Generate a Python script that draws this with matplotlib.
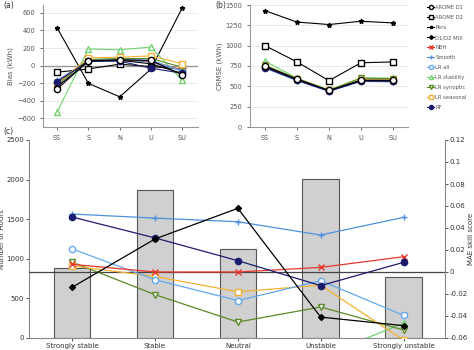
import matplotlib.pyplot as plt
import numpy as np

plt.rcParams['font.family'] = ['DejaVu Sans']
plt.rcParams['font.size'] = 5

# categories
cats_short = ['SS', 'S', 'N', 'U', 'SU']
cats_long = ['Strongly stable', 'Stable', 'Neutral', 'Unstable', 'Strongly unstable']

# (a) bias in kWh
bias = {
    'AROME D1':     [-268, 54, 65, 58, -107],
    'AROME D2':     [-76, -38, 16, -12, -40],
    'Pers':         [430, -203, -356, -40, 660],
    'D1/D2 MIX':    [-240, 45, 60, 20, -90],
    'NBH':          [-190, 60, 70, 50, -50],
    'Smooth':       [-170, 55, 65, 40, -60],
    'LR all':       [-200, 60, 75, 60, -60],
    'LR stability': [-529, 189, 180, 211, -170],
    'LR synoptic':  [-220, 70, 80, 80, -20],
    'LR seasonal':  [-210, 90, 95, 110, 20],
    'RF':           [-184, 50, 50, -30, -88],
}

# (b) CRMSE in kWh
crmse = {
    'AROME D1':     [750, 590, 450, 575, 575],
    'AROME D2':     [1000, 800, 570, 790, 800],
    'Pers':         [1430, 1290, 1260, 1300, 1280],
    'D1/D2 MIX':    [740, 580, 445, 570, 570],
    'NBH':          [745, 585, 448, 575, 570],
    'Smooth':       [725, 570, 440, 560, 555],
    'LR all':       [735, 575, 442, 565, 560],
    'LR stability': [810, 600, 455, 605, 600],
    'LR synoptic':  [760, 595, 452, 600, 595],
    'LR seasonal':  [750, 590, 450, 580, 580],
    'RF':           [730, 575, 440, 565, 560],
}

# (c) number of hours and MAE skill score
hours = [884, 1869, 1124, 2008, 770]
skill = {
    'D1/D2 MIX':    [-0.0139, 0.030, 0.0579, -0.041, -0.0488],
    'NBH':          [0.007, 0.0, 0.0, 0.0042, 0.0139],
    'Smooth':       [0.0527, 0.049, 0.0457, 0.0336, 0.0497],
    'LR all':       [0.021, -0.007, -0.026, -0.0079, -0.0394],
    'LR stability': [-0.09, -0.10, -0.12, -0.077, -0.0465],
    'LR synoptic':  [0.009, -0.0206, -0.0455, -0.0318, -0.0527],
    'LR seasonal':  [0.0055, -0.004, -0.018, -0.012, -0.062],
    'RF':           [0.050, 0.031, 0.0103, -0.0124, 0.0088],
}

styles = {
    'AROME D1':     dict(color='black', marker='o', mfc='white', mec='black', ms=4.5, mew=1.0),
    'AROME D2':     dict(color='black', marker='s', mfc='white', mec='black', ms=4, mew=1.0),
    'Pers':         dict(color='black', marker='*', mfc='black', mec='black', ms=3.5),
    'D1/D2 MIX':    dict(color='black', marker='D', mfc='black', mec='black', ms=3),
    'NBH':          dict(color='#e8372a', marker='x', mfc='#e8372a', mec='#e8372a', ms=4),
    'Smooth':       dict(color='#4f8fe0', marker='+', mfc='#4f8fe0', mec='#4f8fe0', ms=5),
    'LR all':       dict(color='#62a8ee', marker='o', mfc='white', mec='#62a8ee', ms=4.5),
    'LR stability': dict(color='#6fd36f', marker='^', mfc='white', mec='#6fd36f', ms=4.5),
    'LR synoptic':  dict(color='#5a8a28', marker='v', mfc='white', mec='#5a8a28', ms=4.5),
    'LR seasonal':  dict(color='#f2b133', marker='s', mfc='white', mec='#f2b133', ms=4),
    'RF':           dict(color='#1c1c6e', marker='o', mfc='#1c1c6e', mec='#1c1c6e', ms=4.5),
}

gray = '#555555'
fig = plt.figure(figsize=(4.74, 3.5), dpi=100)

def style_top(ax):
    for s in ['top', 'right']:
        ax.spines[s].set_visible(False)
    for s in ['left', 'bottom']:
        ax.spines[s].set_color('#999999')
        ax.spines[s].set_linewidth(0.8)
    ax.tick_params(colors=gray, length=2, width=0.6, labelsize=4.8)
    ax.set_xticks(range(5))
    ax.set_xticklabels(cats_short)
    ax.set_xlim(-0.45, 4.5)
    ax.yaxis.grid(True, color='#e6e6e6', lw=0.6)
    ax.set_axisbelow(True)

# (a)
axa = fig.add_axes([43/474, 1-127/350, 155/474, 122/350])
style_top(axa)
axa.axhline(0, color='#999999', lw=1.0, zorder=1)
x = np.arange(5)
order = ['Pers', 'AROME D2', 'LR stability', 'Smooth', 'NBH', 'LR all', 'LR synoptic',
         'LR seasonal', 'D1/D2 MIX', 'RF', 'AROME D1']
for name in order:
    axa.plot(x, bias[name], lw=0.8, **styles[name])
axa.set_ylim(-700, 690)
axa.set_yticks(range(-600, 601, 200))
axa.set_ylabel('Bias (kWh)', color=gray, fontsize=5, labelpad=2)
fig.text(3/474, 1-8/350, '(a)', fontsize=5.5, color='#333333')

# (b)
axb = fig.add_axes([250/474, 1-127/350, 158/474, 122/350])
style_top(axb)
lines = {}
for name in order:
    lines[name], = axb.plot(x, crmse[name], lw=0.8, **styles[name])
axb.set_ylim(0, 1500)
axb.set_yticks(range(0, 1501, 250))
axb.set_xlim(-0.47, 4.47)
axb.set_ylabel('CRMSE (kWh)', color=gray, fontsize=5, labelpad=2)
fig.text(215/474, 1-8/350, '(b)', fontsize=5.5, color='#333333')

# legend
names = list(styles.keys())
leg = fig.legend([lines[n] for n in names], names, loc='upper left',
                 bbox_to_anchor=(425/474, 1-3/350), frameon=False, fontsize=3.8,
                 handlelength=1.3, labelspacing=0.95, borderaxespad=0, handletextpad=0.25,
                 markerscale=0.65, labelcolor=gray)

# (c)
axc = fig.add_axes([29/474, 1-338/350, 416/474, 198/350])
axc.bar(x, hours, width=0.44, color='#d0d0d0', edgecolor='#555555', lw=0.8, zorder=1)
axc.set_ylim(0, 2500)
axc.set_yticks(range(0, 2501, 500))
axc.set_xlim(-0.52, 4.5)
axc.set_xticks(range(5))
axc.set_xticklabels(cats_long)
axc.spines['top'].set_visible(False)
axc.spines['right'].set_visible(False)
axc.spines['left'].set_color('#888888')
axc.spines['bottom'].set_color('#888888')
axc.tick_params(colors='#333333', length=2, width=0.6, labelsize=5, pad=1.5)
axc.set_ylabel('Number of Hours', fontsize=5, color='#333333')
axc.yaxis.set_label_coords(-0.057, 0.5)

axr = axc.twinx()
axr.set_ylim(-0.06, 0.12)
axr.set_yticks(np.arange(-0.06, 0.121, 0.02))
axr.set_yticklabels(['-0.06', '-0.04', '-0.02', '0', '0.02', '0.04', '0.06', '0.08', '0.1', '0.12'])
axr.axhline(0, color='#444444', lw=0.9, zorder=1)
for name in ['LR stability', 'LR synoptic', 'LR seasonal', 'LR all', 'NBH', 'Smooth', 'RF', 'D1/D2 MIX']:
    axr.plot(x, skill[name], lw=0.9, clip_on=True, **styles[name])
for s in ['top', 'left', 'bottom']:
    axr.spines[s].set_visible(False)
axr.spines['right'].set_color('#888888')
axr.tick_params(colors='#333333', length=2, width=0.6, labelsize=5, pad=1.5)
axr.set_ylabel('MAE skill score', fontsize=5, color='#333333')
axr.yaxis.set_label_coords(1.056, 0.5)
fig.text(3/474, 1-134/350, '(c)', fontsize=5.5, color='#333333')

fig.savefig('out.png', dpi=100)
